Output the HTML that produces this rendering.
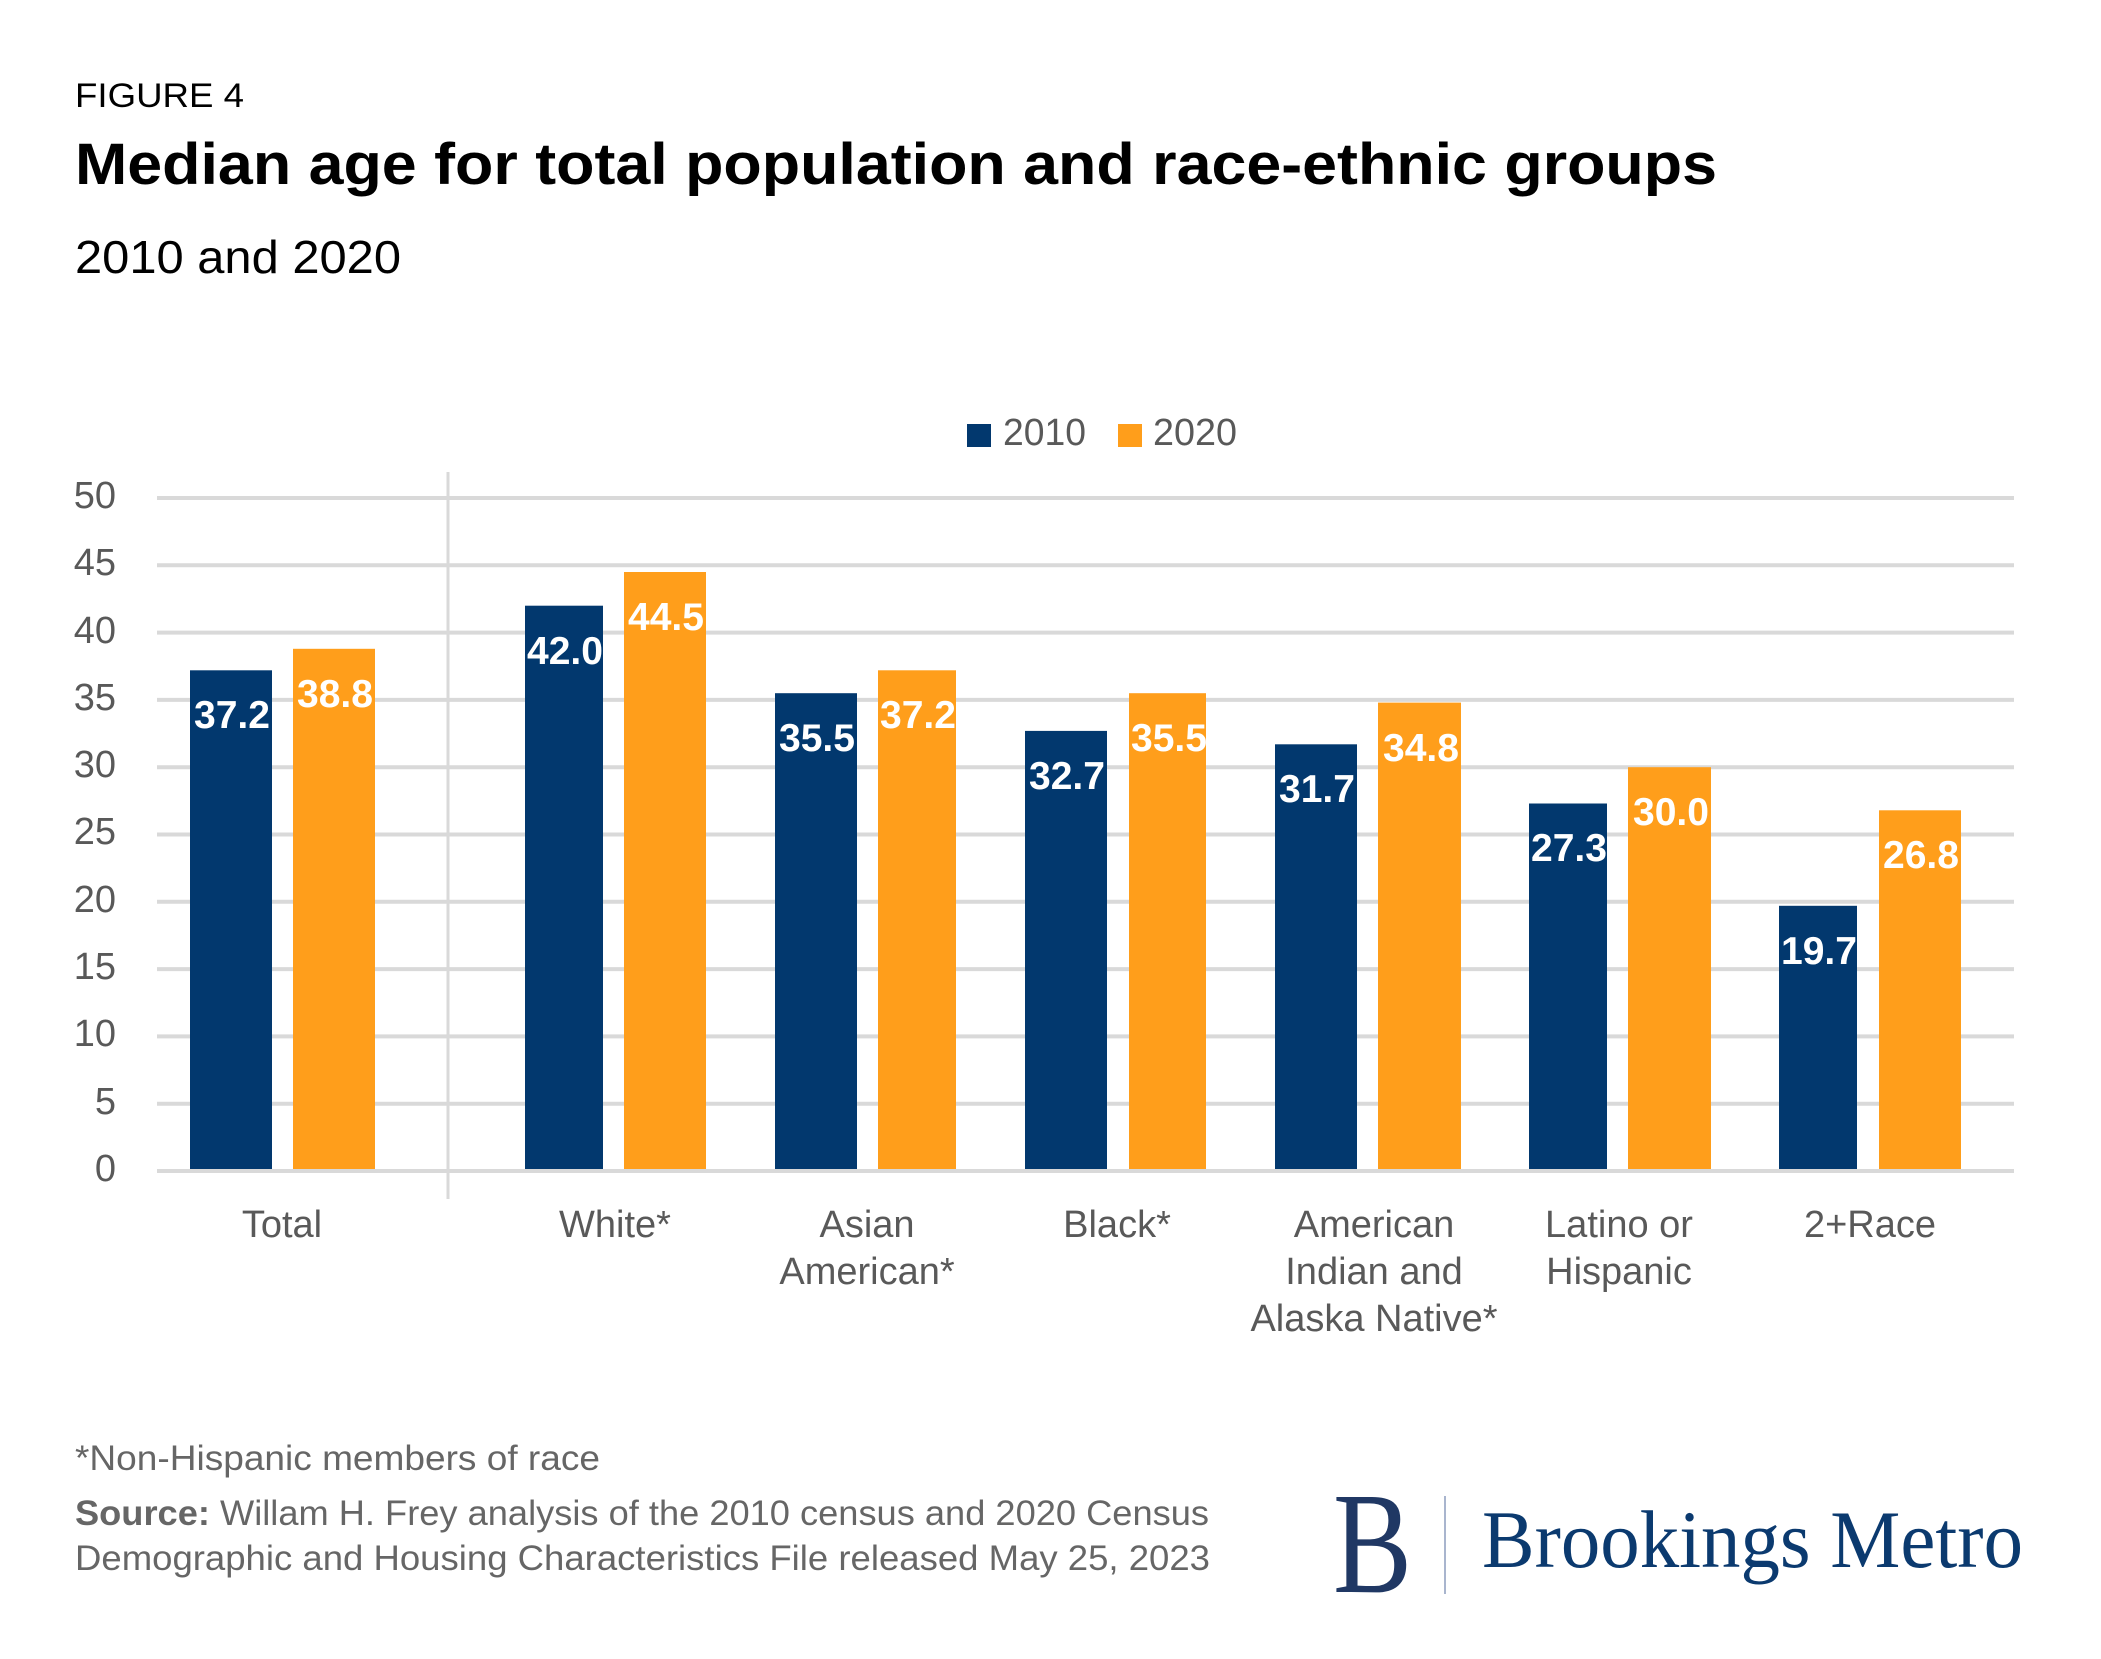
<!DOCTYPE html>
<html>
<head>
<meta charset="utf-8">
<style>
  html, body { margin: 0; padding: 0; background: #ffffff; }
  svg { display: block; }
  text { font-family: "Liberation Sans", Arial, sans-serif; }
  .serif { font-family: "Liberation Serif", "Times New Roman", serif; }
</style>
</head>
<body>
<svg width="2101" height="1659" viewBox="0 0 2101 1659" xmlns="http://www.w3.org/2000/svg">
  <rect x="0" y="0" width="2101" height="1659" fill="#ffffff"/>

  <!-- Header -->
  <text x="75" y="107" font-size="34" fill="#000" textLength="169" lengthAdjust="spacingAndGlyphs">FIGURE 4</text>
  <text x="75" y="184" font-size="58" font-weight="bold" fill="#000" textLength="1642" lengthAdjust="spacingAndGlyphs">Median age for total population and race-ethnic groups</text>
  <text x="75" y="273" font-size="46" fill="#000" textLength="326" lengthAdjust="spacingAndGlyphs">2010 and 2020</text>

  <!-- Legend -->
  <rect x="967" y="424" width="24" height="23" fill="#02386E"/>
  <text x="1003" y="445" font-size="38" fill="#595959" textLength="83" lengthAdjust="spacingAndGlyphs">2010</text>
  <rect x="1118" y="424" width="24" height="23" fill="#FF9E1B"/>
  <text x="1153" y="445" font-size="38" fill="#595959" textLength="84" lengthAdjust="spacingAndGlyphs">2020</text>

  <!-- Gridlines -->
  <g stroke="#D9D9D9" stroke-width="4">
    <line x1="157" y1="498" x2="2014" y2="498"/>
    <line x1="157" y1="565.3" x2="2014" y2="565.3"/>
    <line x1="157" y1="632.6" x2="2014" y2="632.6"/>
    <line x1="157" y1="699.9" x2="2014" y2="699.9"/>
    <line x1="157" y1="767.2" x2="2014" y2="767.2"/>
    <line x1="157" y1="834.5" x2="2014" y2="834.5"/>
    <line x1="157" y1="901.8" x2="2014" y2="901.8"/>
    <line x1="157" y1="969.1" x2="2014" y2="969.1"/>
    <line x1="157" y1="1036.4" x2="2014" y2="1036.4"/>
    <line x1="157" y1="1103.7" x2="2014" y2="1103.7"/>
    <line x1="157" y1="1171" x2="2014" y2="1171"/>
  </g>
  <!-- separator -->
  <line x1="448" y1="472" x2="448" y2="1199" stroke="#D9D9D9" stroke-width="3"/>

  <!-- Y tick labels -->
  <g font-size="38" fill="#595959" text-anchor="end">
    <text x="116" y="508">50</text>
    <text x="116" y="575">45</text>
    <text x="116" y="643">40</text>
    <text x="116" y="710">35</text>
    <text x="116" y="777">30</text>
    <text x="116" y="844">25</text>
    <text x="116" y="912">20</text>
    <text x="116" y="979">15</text>
    <text x="116" y="1046">10</text>
    <text x="116" y="1114">5</text>
    <text x="116" y="1181">0</text>
  </g>

  <!-- Bars 2010 -->
  <g fill="#02386E">
    <rect x="190" y="670.3" width="82" height="498.7"/>
    <rect x="525" y="605.7" width="78" height="563.3"/>
    <rect x="775" y="693.2" width="82" height="475.8"/>
    <rect x="1025" y="730.9" width="82" height="438.1"/>
    <rect x="1275" y="744.3" width="82" height="424.7"/>
    <rect x="1529" y="803.5" width="78" height="365.5"/>
    <rect x="1779" y="905.8" width="78" height="263.2"/>
  </g>
  <!-- Bars 2020 -->
  <g fill="#FF9E1B">
    <rect x="293" y="648.8" width="82" height="520.2"/>
    <rect x="624" y="572.0" width="82" height="597.0"/>
    <rect x="878" y="670.3" width="78" height="498.7"/>
    <rect x="1129" y="693.2" width="77" height="475.8"/>
    <rect x="1378" y="702.6" width="83" height="466.4"/>
    <rect x="1628" y="767.2" width="83" height="401.8"/>
    <rect x="1879" y="810.3" width="82" height="358.7"/>
  </g>

  <!-- Value labels -->
  <g font-size="39" font-weight="bold" fill="#ffffff" text-anchor="middle">
    <text x="232" y="728" textLength="76" lengthAdjust="spacingAndGlyphs">37.2</text>
    <text x="335" y="707" textLength="76" lengthAdjust="spacingAndGlyphs">38.8</text>
    <text x="565" y="664" textLength="76" lengthAdjust="spacingAndGlyphs">42.0</text>
    <text x="666" y="630" textLength="76" lengthAdjust="spacingAndGlyphs">44.5</text>
    <text x="817" y="751" textLength="76" lengthAdjust="spacingAndGlyphs">35.5</text>
    <text x="918" y="728" textLength="76" lengthAdjust="spacingAndGlyphs">37.2</text>
    <text x="1067" y="789" textLength="76" lengthAdjust="spacingAndGlyphs">32.7</text>
    <text x="1169" y="751" textLength="76" lengthAdjust="spacingAndGlyphs">35.5</text>
    <text x="1317" y="802" textLength="76" lengthAdjust="spacingAndGlyphs">31.7</text>
    <text x="1421" y="761" textLength="76" lengthAdjust="spacingAndGlyphs">34.8</text>
    <text x="1569" y="861" textLength="76" lengthAdjust="spacingAndGlyphs">27.3</text>
    <text x="1671" y="825" textLength="76" lengthAdjust="spacingAndGlyphs">30.0</text>
    <text x="1819" y="964" textLength="76" lengthAdjust="spacingAndGlyphs">19.7</text>
    <text x="1921" y="868" textLength="76" lengthAdjust="spacingAndGlyphs">26.8</text>
  </g>

  <!-- Category labels -->
  <g font-size="38" fill="#595959" text-anchor="middle">
    <text x="282" y="1237">Total</text>
    <text x="615" y="1237">White*</text>
    <text x="867" y="1237">Asian</text>
    <text x="867" y="1284">American*</text>
    <text x="1117" y="1237">Black*</text>
    <text x="1374" y="1237">American</text>
    <text x="1374" y="1284">Indian and</text>
    <text x="1374" y="1331">Alaska Native*</text>
    <text x="1619" y="1237">Latino or</text>
    <text x="1619" y="1284">Hispanic</text>
    <text x="1870" y="1237">2+Race</text>
  </g>

  <!-- Footer -->
  <text x="75" y="1470" font-size="35" fill="#666666" textLength="525" lengthAdjust="spacingAndGlyphs">*Non-Hispanic members of race</text>
  <text x="75" y="1525" font-size="35" fill="#666666" textLength="1134" lengthAdjust="spacingAndGlyphs"><tspan font-weight="bold">Source:</tspan> Willam H. Frey analysis of the 2010 census and 2020 Census</text>
  <text x="75" y="1570" font-size="35" fill="#666666" textLength="1135" lengthAdjust="spacingAndGlyphs">Demographic and Housing Characteristics File released May 25, 2023</text>

  <!-- Logo -->
  <text class="serif" x="1333" y="1592" font-size="145" fill="#203864" textLength="79" lengthAdjust="spacingAndGlyphs">B</text>
  <line x1="1445" y1="1496" x2="1445" y2="1594" stroke="#A9B5CE" stroke-width="2"/>
  <text class="serif" x="1482" y="1567" font-size="82" fill="#0B3A6F" textLength="541" lengthAdjust="spacingAndGlyphs">Brookings Metro</text>
</svg>
</body>
</html>
